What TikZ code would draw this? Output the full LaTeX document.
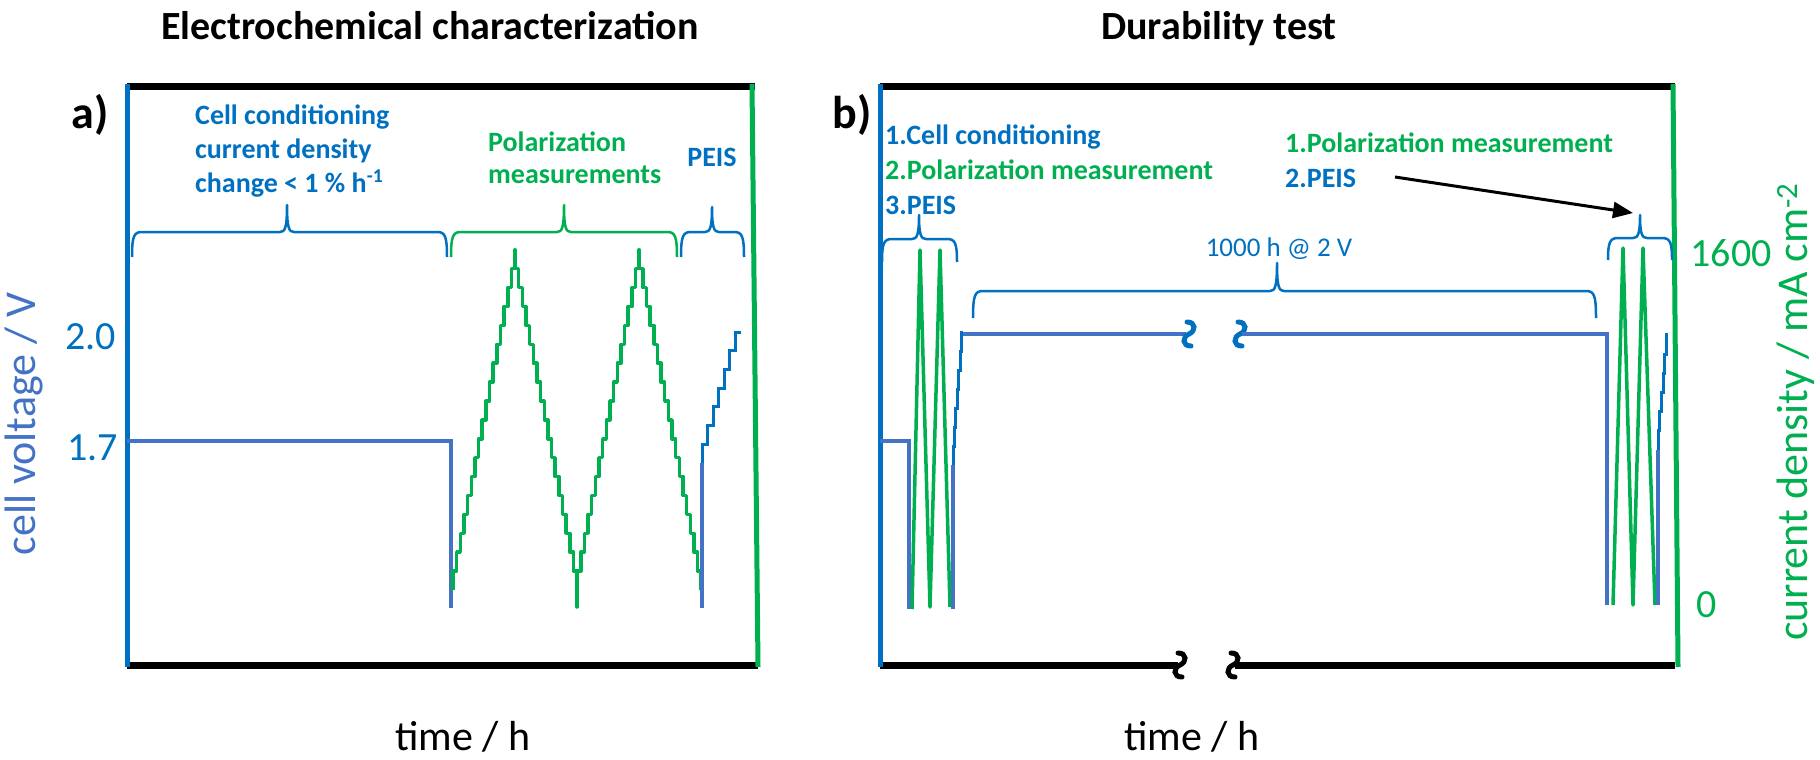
\documentclass[tikz,border=0pt]{standalone}
\usepackage{fontspec}
\setmainfont{Carlito}
\usetikzlibrary{arrows.meta}
\definecolor{tblue}{HTML}{0070C0}
\definecolor{tgreen}{HTML}{00B050}
\definecolor{lblue}{HTML}{4472C4}
\newcommand\fsz[1]{\fontsize{#1}{#1}\selectfont}
\newcommand\brc[7]{%
\draw[brace,#1] (#2,#7) .. controls (#2,{#5+4}) and ({#2+2},#5) .. ({#2+10},#5) -- ({#4-7},#5) .. controls ({#4-2},#5) and (#4,{#5-4}) .. (#4,#6) .. controls (#4,{#5-4}) and ({#4+2},#5) .. ({#4+7},#5) -- ({#3-10},#5) .. controls ({#3-2},#5) and (#3,{#5+4}) .. (#3,#7);}
\newcommand\sqg[3]{\draw[#3, line width=5, line cap=round] ({#1-2},{#2-12}) .. controls ({#1+7},{#2-12}) and ({#1+7},{#2-3}) .. (#1,#2) .. controls ({#1-7},{#2+3}) and ({#1-7},{#2+12}) .. ({#1+2},{#2+12});}
\begin{document}
\begin{tikzpicture}[x=1pt,y=-1pt,
  txt/.style={inner sep=0pt},
  brace/.style={line width=2.5, line join=round},
  cv/.style={lblue, line width=3.5},
  gs/.style={tgreen, line width=3.5},
  ds/.style={tblue, line width=3},
  blk/.style={black, line width=7},
  lax/.style={tblue, line width=5},
  rax/.style={tgreen, line width=5}]
\useasboundingbox (0,0) rectangle (1820,760);
% titles
\node[txt, anchor=base, font=\fsz{40}\bfseries] (t1) at (430,40) {Electrochemical characterization};
\node[txt, anchor=base, font=\fsz{40}\bfseries] (t2) at (1219,40) {Durability test};
\node[txt, anchor=base, font=\fsz{46}\bfseries] (la) at (90,128) {a)};
\node[txt, anchor=base, font=\fsz{46}\bfseries] (lb) at (852,128) {b)};
% ---------- panel a frame
\draw[blk] (127,86) -- (755,86);
\draw[blk] (127,665) -- (758,665);
\draw[lax] (127,84) -- (127,667);
\draw[rax] (752,84) -- (758,667);
% axis labels a
\node[txt, anchor=base, rotate=90, font=\fsz{44}, text=lblue] (yl) at (35,424) {cell voltage / V};
\node[txt, anchor=east, font=\fsz{40}, text=tblue] (v20) at (116,337) {2.0};
\node[txt, anchor=east, font=\fsz{40}, text=tblue] (v17) at (118,448) {1.7};
\node[txt, anchor=base, font=\fsz{42}] (xa) at (463,750) {time / h};
% labels a
\node[txt, anchor=base west, font=\fsz{28}\bfseries, text=tblue] (a1) at (195,124) {Cell conditioning};
\node[txt, anchor=base west, font=\fsz{28}\bfseries, text=tblue] (a2) at (195,158) {current density};
\node[txt, anchor=base west, font=\fsz{28}\bfseries, text=tblue] (a3) at (195,192) {change < 1 \% h\textsuperscript{-1}};
\node[txt, anchor=base west, font=\fsz{28}\bfseries, text=tgreen] (p1) at (488,151) {Polarization};
\node[txt, anchor=base west, font=\fsz{28}\bfseries, text=tgreen] (p2) at (488,183) {measurements};
\node[txt, anchor=base, font=\fsz{28}\bfseries, text=tblue] (pe) at (712,166) {PEIS};
% braces a
\brc{tblue}{132}{447}{287}{232}{205}{257}
\brc{tgreen}{451}{677}{564}{232}{205}{257}
\brc{tblue}{681}{744}{712}{232}{207}{257}
% curves a
\draw[cv] (127,441) -- (451,441) -- (451,608);
\draw[gs, line join=round] (453,590) -- ++(0,-18.9)
  \foreach \i in {1,...,17} { -- ++(3.65,0) -- ++(0,-18.9) }
  \foreach \i in {1,...,17} { -- ++(0,18.9) -- ++(3.65,0) } -- ++(0,18.9)
  -- ++(0,17) -- ++(0,-17) -- ++(0,-18.9)
  \foreach \i in {1,...,17} { -- ++(3.65,0) -- ++(0,-18.9) }
  \foreach \i in {1,...,17} { -- ++(0,18.9) -- ++(3.65,0) } -- ++(0,18.9);
\draw[cv] (702,608) -- (702,463);
\draw[ds] (702,463) \foreach \i in {1,...,7} { -- ++(0,-18.7) -- ++(5.5,0) };
% ---------- panel b frame
\draw[blk] (880,86) -- (1675,86);
\draw[blk] (880,665) -- (1178,665);
\draw[blk] (1235,665) -- (1675,665);
\sqg{1180}{665}{black}
\sqg{1233}{665}{black}
\draw[lax] (880,84) -- (880,667);
\draw[rax] (1673,84) -- (1678,667);
% axis labels b
\node[txt, anchor=base, rotate=90, font=\fsz{44}, text=tgreen] (yr) at (1807,412) {current density / mA cm\textsuperscript{-2}};
\node[txt, anchor=center, font=\fsz{40}, text=tgreen] (c16) at (1731,253) {1600};
\node[txt, anchor=center, font=\fsz{40}, text=tgreen] (c0) at (1707,605) {0};
\node[txt, anchor=base, font=\fsz{42}] (xb) at (1192,750) {time / h};
% labels b
\node[txt, anchor=base west, font=\fsz{28}\bfseries, text=tblue] (b1) at (885,144) {1.Cell conditioning};
\node[txt, anchor=base west, font=\fsz{28}\bfseries, text=tgreen] (b2) at (885,179) {2.Polarization measurement};
\node[txt, anchor=base west, font=\fsz{28}\bfseries, text=tblue] (b3) at (885,214) {3.PEIS};
\node[txt, anchor=base west, font=\fsz{28}\bfseries, text=tgreen] (r1) at (1285,152) {1.Polarization measurement};
\node[txt, anchor=base west, font=\fsz{28}\bfseries, text=tblue] (r2) at (1285,187) {2.PEIS};
\node[txt, anchor=base, font=\fsz{27}, text=tblue] (kh) at (1279,256) {1000 h @ 2 V};
% braces b
\brc{tblue}{882}{957}{919}{239}{215}{262}
\brc{tblue}{973}{1596}{1277}{291}{263}{318}
\brc{tblue}{1608}{1672}{1640}{238}{215}{260}
\coordinate (as) at (1395,177);
\coordinate (ae) at (1633,213);
\draw[black, line width=3, -{Triangle[length=20,width=16]}] (as) -- (ae);
% curves b
\draw[cv] (880,441) -- (909,441) -- (909,609);
\draw[gs, line join=round] (912,609) -- (920,250) -- (930,607) -- (940,250) -- (950,607);
\draw[cv] (953,609) -- (953,465);
\draw[ds] (953,465) \foreach \i in {1,...,7} { -- ++(0,-18.9) -- ++(1.43,0) };
\draw[cv] (963,334) -- (1186,334);
\sqg{1189}{334}{tblue}
\sqg{1240}{334}{tblue}
\draw[cv] (1242,334) -- (1607,334) -- (1607,605);
\draw[gs, line join=round] (1613,605) -- (1623,248) -- (1633,605) -- (1643,248) -- (1655,605);
\draw[cv] (1658,605) -- (1658,450);
\draw[ds] (1658,450) \foreach \i in {1,...,6} { -- ++(0,-19.2) -- ++(1.67,0) };
\end{tikzpicture}
\end{document}
